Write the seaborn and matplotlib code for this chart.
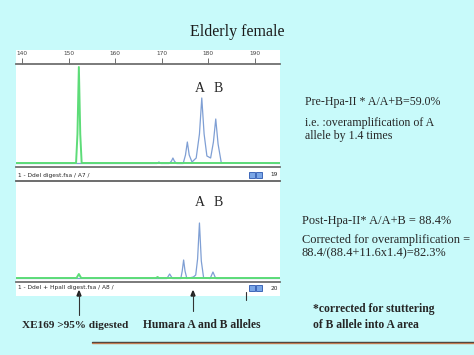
import pandas as pd
import matplotlib
matplotlib.use("Agg")
import matplotlib.pyplot as plt
from matplotlib.patches import Rectangle
import seaborn as sns

# --- data (bp vs. signal, baseline = 0) ---
ruler_ticks = [140, 150, 160, 170, 180, 190]

top_green_bp = [138.7, 151.6, 151.9, 152.2, 152.5, 152.8, 195.4]
top_green_sig = [1, 1, 30, 97, 30, 1, 1]

top_blue_bp = [138.7, 169.0, 169.4, 169.8, 171.6, 172.1, 172.4, 172.7, 173.2,
               174.6, 175.1, 175.5, 175.9, 176.5, 177.4, 178.1, 178.6, 179.1,
               179.7, 180.5, 181.1, 181.6, 182.1, 182.8, 195.4]
top_blue_sig = [0.5, 0.5, 2, 0.5, 0.5, 3, 6, 3, 0.5,
                0.5, 9, 22, 9, 2, 6, 30, 66, 30,
                8, 6, 22, 45, 20, 1, 0.5]

bot_green_bp = [138.7, 151.7, 152.2, 152.7, 168.8, 169.1, 169.4, 195.4]
bot_green_sig = [1, 1, 5, 1, 1, 2, 1, 1]

bot_blue_bp = [138.7, 171.1, 171.7, 172.3, 174.1, 174.4, 174.7, 175.0, 175.4,
               176.8, 177.3, 177.7, 178.1, 178.5, 179.0, 180.4, 181.0, 181.6, 195.4]
bot_blue_sig = [0.5, 0.5, 5, 0.5, 0.5, 8, 19, 8, 0.5,
                2, 4, 20, 56, 18, 1, 0.5, 7, 0.5, 0.5]

top_label = "1 - DdeI digest.fsa / A7 /"
bot_label = "1 - DdeI + HpaII digest.fsa / A8 /"

W, H = 474, 355
BG = "#c8fafa"
GREEN = "#5ddc78"
BLUE = "#7f9fd4"
SERIF = "Liberation Serif"


def rect(x0, y0, x1, y1):
    return [x0 / W, 1 - y1 / H, (x1 - x0) / W, (y1 - y0) / H]


def ftext(x, y, s, **kw):
    fig.text(x / W, 1 - y / H, s, **kw)


sns.set_theme(style="white")
fig = plt.figure(figsize=(W / 100, H / 100), dpi=100, facecolor=BG)

# white instrument window (behind the axes)
fig.patches.append(Rectangle((16 / W, 1 - 296 / H), 264 / W, 246 / H,
                             transform=fig.transFigure, facecolor="white",
                             edgecolor="none", zorder=-10))

panels = [
    (64, 167, top_green_bp, top_green_sig, top_blue_bp, top_blue_sig, (-3, 100)),
    (181, 282, bot_green_bp, bot_green_sig, bot_blue_bp, bot_blue_sig, (-3, 98)),
]
axes = []
for y0, y1, gx, gy, bx, by, ylim in panels:
    ax = fig.add_axes(rect(16, y0, 280, y1))
    ax.set_facecolor("white")
    g = pd.DataFrame({"bp": gx, "signal": gy})
    b = pd.DataFrame({"bp": bx, "signal": by})
    sns.lineplot(data=b, x="bp", y="signal", ax=ax, color=BLUE, lw=0.9,
                 estimator=None)
    sns.lineplot(data=g, x="bp", y="signal", ax=ax, color=GREEN, lw=1.4,
                 estimator=None)
    ax.set_xlim(138.7, 195.4)
    ax.set_ylim(*ylim)
    ax.set_xlabel("")
    ax.set_ylabel("")
    ax.set_yticks([])
    for side in ["left", "right"]:
        ax.spines[side].set_visible(False)
    for side in ["top", "bottom"]:
        ax.spines[side].set_color("#6f6f6f")
        ax.spines[side].set_linewidth(1.3)
    axes.append(ax)

# ruler on top panel
axes[0].xaxis.tick_top()
axes[0].set_xticks(ruler_ticks)
axes[0].set_xticklabels([str(t) for t in ruler_ticks])
axes[0].tick_params(axis="x", top=True, bottom=False, length=4, width=0.6,
                    color="#555555", labelsize=4.2, labelcolor="#444444", pad=1.5)
axes[1].set_xticks([])

# A / B peak labels
for y in (88, 202):
    ftext(200, y, "A", family=SERIF, fontsize=10, ha="center", va="center")
    ftext(218, y, "B", family=SERIF, fontsize=10, ha="center", va="center")

# file label rows
for y, lab, num in ((175, top_label, "19"), (288, bot_label, "20")):
    ftext(18, y, lab, fontsize=4.2, ha="left", va="center")
    ftext(278, y, num, fontsize=4.2, ha="right", va="center")
    for x in (249, 256):
        fig.patches.append(Rectangle((x / W, 1 - (y + 3) / H), 6 / W, 6 / H,
                                     transform=fig.transFigure,
                                     facecolor="#7aa6e6", edgecolor="#2a56b0",
                                     lw=0.6, zorder=5))
fig.add_artist(plt.Line2D([16 / W, 280 / W], [1 - 181 / H, 1 - 181 / H],
                          transform=fig.transFigure, color="#6f6f6f", lw=1.3))

# arrows pointing into the bottom panel
for x, ytail in ((79, 315), (193, 311)):
    fig.add_artist(plt.Line2D([x / W, x / W], [1 - ytail / H, 1 - 293 / H],
                              transform=fig.transFigure, color="#333333", lw=0.8))
    fig.add_artist(plt.Polygon([(x / W, 1 - 291 / H),
                                ((x - 2) / W, 1 - 296 / H),
                                ((x + 2) / W, 1 - 296 / H)],
                               closed=True, transform=fig.transFigure,
                               color="#222222"))
fig.add_artist(plt.Line2D([246 / W, 246 / W], [1 - 300 / H, 1 - 292 / H],
                          transform=fig.transFigure, color="#333333", lw=0.8))

# slide texts
ftext(237, 32, "Elderly female", family=SERIF, fontsize=11.5,
      ha="center", va="center", color="#1a1a1a")
ftext(305, 102, "Pre-Hpa-II * A/A+B=59.0%", family=SERIF, fontsize=8.6,
      ha="left", va="center")
ftext(305, 123, "i.e. :overamplification of A", family=SERIF, fontsize=8.6,
      ha="left", va="center")
ftext(305, 136, "allele by 1.4 times", family=SERIF, fontsize=8.6,
      ha="left", va="center")
ftext(302, 221, "Post-Hpa-II* A/A+B = 88.4%", family=SERIF, fontsize=8.9,
      ha="left", va="center")
ftext(302, 240, "Corrected for overamplification =", family=SERIF, fontsize=8.9,
      ha="left", va="center")
ftext(302, 253, "88.4/(88.4+11.6x1.4)=82.3%", family=SERIF, fontsize=8.9,
      ha="left", va="center")
ftext(313, 309, "*corrected for stuttering", family=SERIF, fontsize=8.4,
      fontweight="bold", ha="left", va="center")
ftext(313, 325, "of B allele into A area", family=SERIF, fontsize=8.4,
      fontweight="bold", ha="left", va="center")
ftext(22, 325, "XE169 >95% digested", family=SERIF, fontsize=8.1,
      fontweight="bold", ha="left", va="center")
ftext(143, 325, "Humara A and B alleles", family=SERIF, fontsize=8.4,
      fontweight="bold", ha="left", va="center")

# brown rule at the bottom
fig.add_artist(plt.Line2D([92 / W, 1], [1 - 341.5 / H, 1 - 341.5 / H],
                          transform=fig.transFigure, color="#3a3a3a", lw=1.0))
fig.add_artist(plt.Line2D([92 / W, 1], [1 - 343 / H, 1 - 343 / H],
                          transform=fig.transFigure, color="#c07a50", lw=1.0))

fig.savefig("out.png", dpi=100, facecolor=BG)
plt.close(fig)
